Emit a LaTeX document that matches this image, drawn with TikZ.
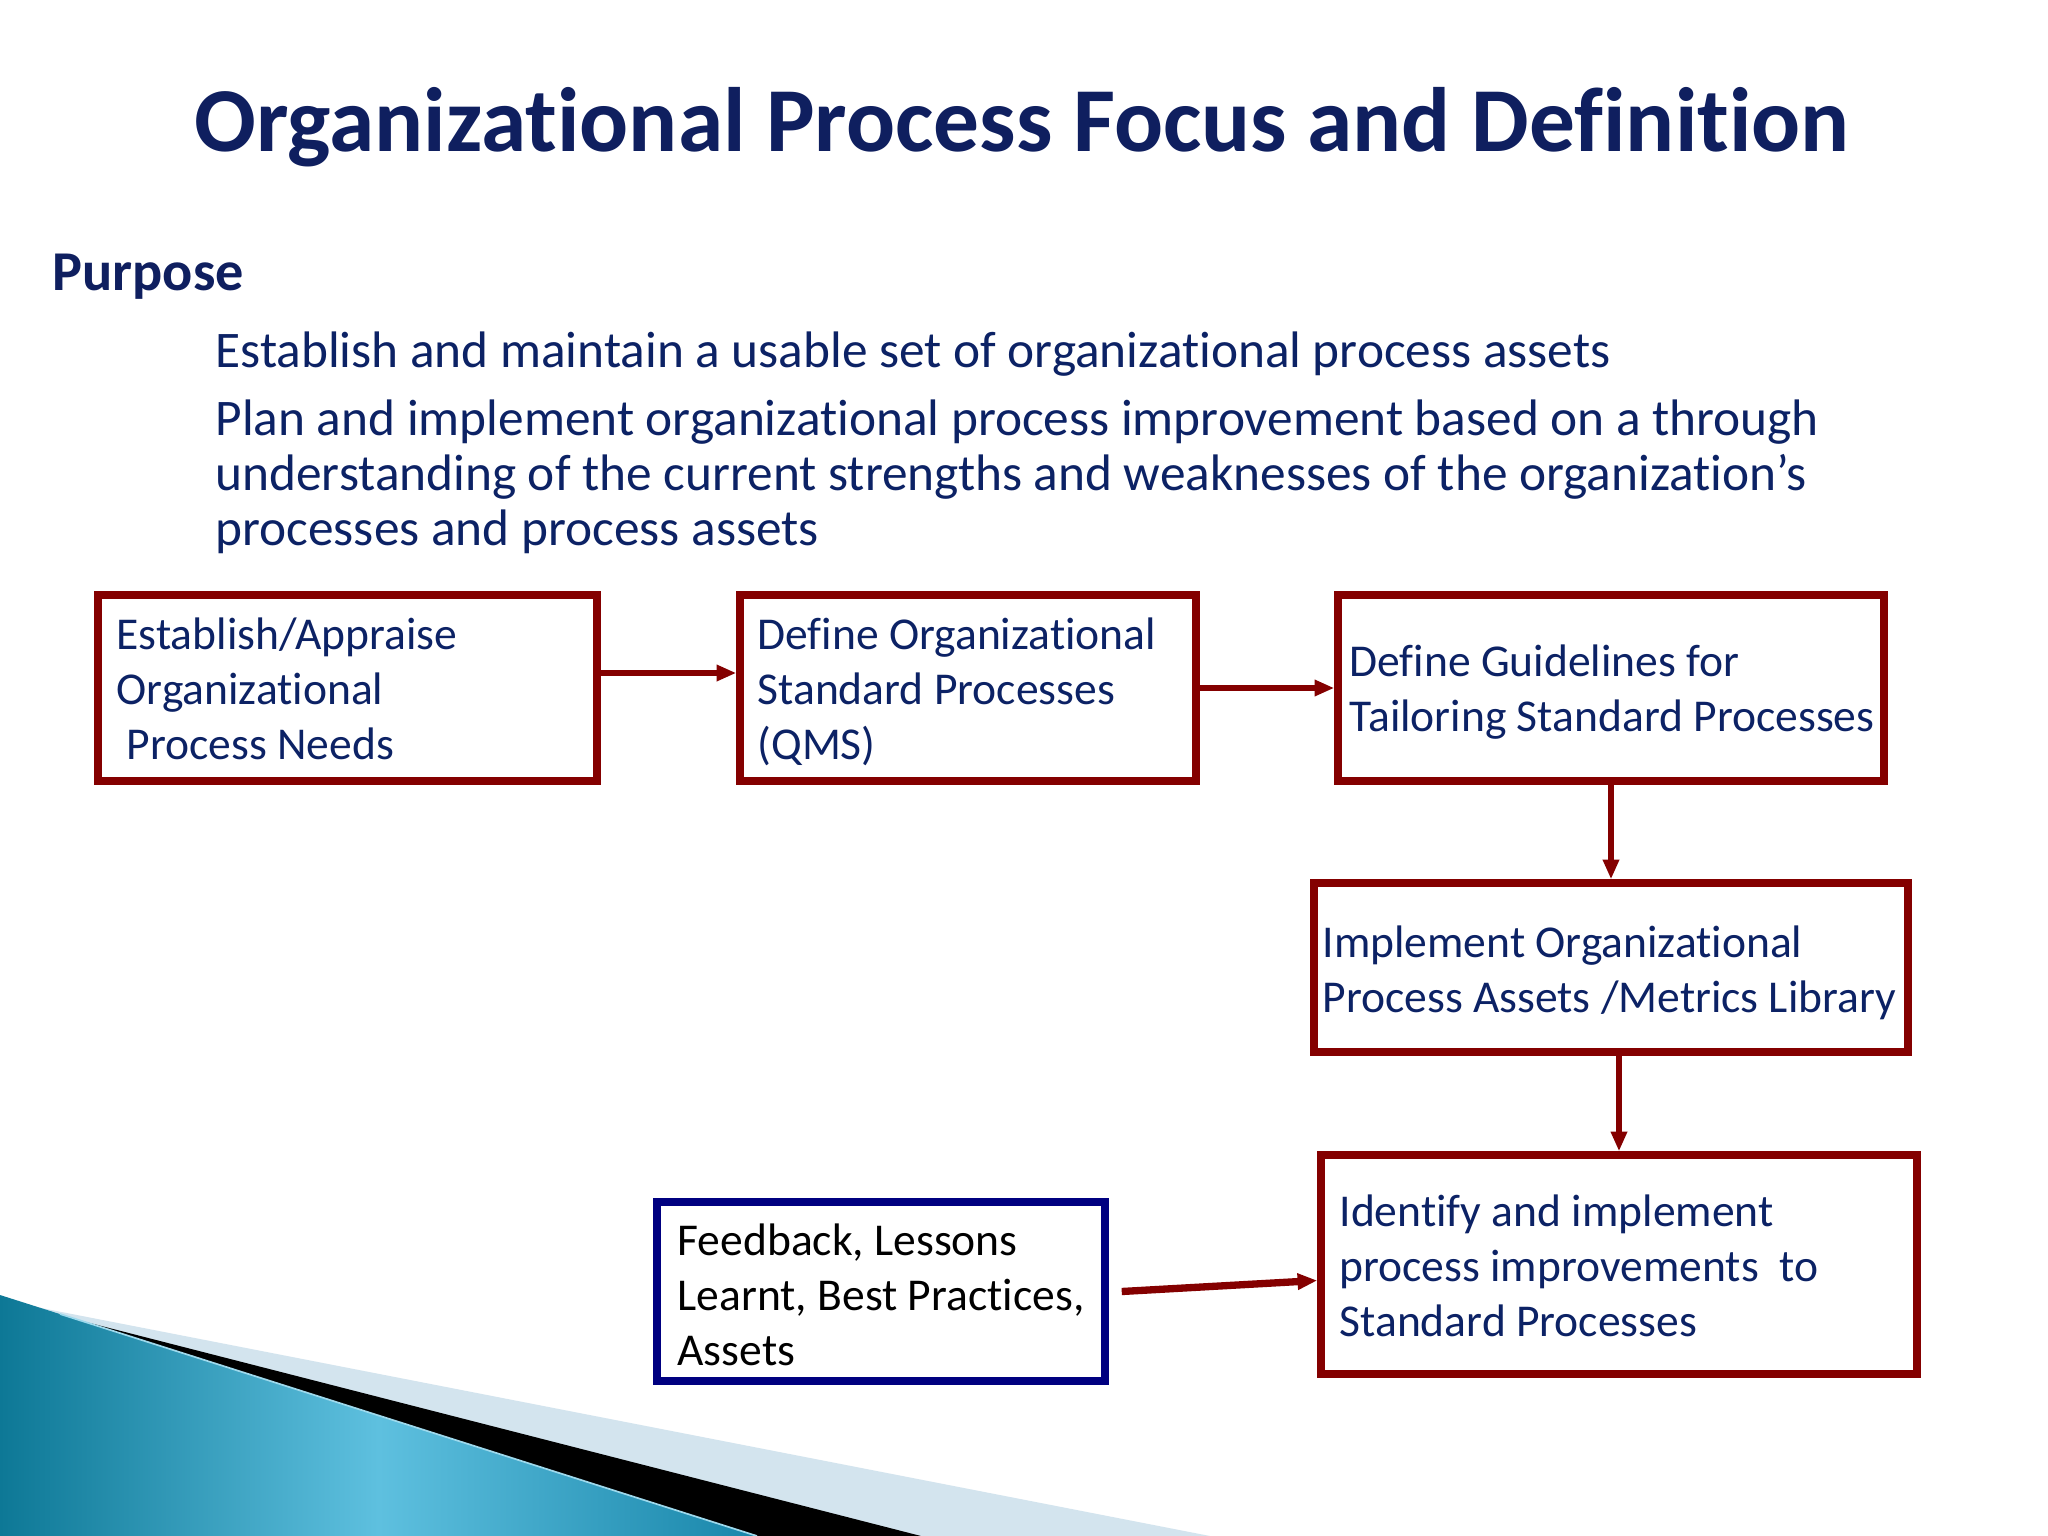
\documentclass[tikz,border=0pt]{standalone}
\usepackage{fontspec}
\setmainfont{Carlito}[Ligatures=NoCommon]
\usetikzlibrary{arrows.meta,calc}
\definecolor{navy}{HTML}{0F1F5F}
\definecolor{txt}{HTML}{0C2265}
\definecolor{brd}{HTML}{840000}
\definecolor{bbrd}{HTML}{000080}
\definecolor{tealA}{HTML}{0D7896}
\definecolor{tealB}{HTML}{5EC0DF}
\definecolor{tealC}{HTML}{1886AA}
\definecolor{band}{HTML}{D3E4EE}
\tikzset{
  box/.style={draw=brd, line width=2.6pt, fill=white, inner sep=0pt},
  bluebox/.style={draw=bbrd, line width=2.6pt, fill=white, inner sep=0pt},
  btext/.style={text=txt, font=\fontsize{16.2}{19.5}\selectfont, align=left, inner sep=0pt, anchor=base west},
  body/.style={text=txt, font=\fontsize{18.25}{19.5}\selectfont, align=left, inner sep=0pt, anchor=base west},
  arr/.style={draw=brd, line width=2.3pt, -{Triangle[length=7pt,width=5.5pt]}},
}
\begin{document}
\begin{tikzpicture}[x=0.0125cm,y=-0.0125cm]
\useasboundingbox (0,0) rectangle (2048,1536);
\fill[white] (0,0) rectangle (2048,1536);
% decoration bottom-left
\fill[band] (0,1300) -- (1210,1536) -- (0,1536) -- cycle;
\fill[black] (0,1300) -- (921,1536) -- (0,1536) -- cycle;
\shade[left color=tealA, right color=tealC, middle color=tealB] (0,1295) -- (757,1536) -- (0,1536) -- cycle;
\draw[color=tealB!60!white, line width=0.6pt] (60,1314) -- (757,1536);
% title and purpose
\node[text=navy, font=\fontsize{32.5}{38}\selectfont\bfseries, anchor=base, inner sep=0pt] (title) at (1022,151) {Organizational Process Focus and Definition};
\node[text=navy, font=\fontsize{20}{24}\selectfont\bfseries, anchor=base west, inner sep=0pt] (purpose) at (52,290) {Purpose};
\node[body] (p1) at (215,367) {Establish and maintain a usable set of organizational process assets};
\node[body] (p2) at (215,435) {Plan and implement organizational process improvement based on a through};
\node[body] (p3) at (215,490) {understanding of the current strengths and weaknesses of the organization’s};
\node[body] (p4) at (215,545) {processes and process assets};
% boxes
\node[box, minimum width=6.2375cm, minimum height=2.325cm] (b1) at (347.5,688) {};
\node[btext] (b1t) at (116,759) {Establish/Appraise\\Organizational\\\ Process Needs};
\node[box, minimum width=5.7cm, minimum height=2.325cm] (b2) at (968,688) {};
\node[btext] (b2t) at (757,759) {Define Organizational\\Standard Processes\\(QMS)};
\node[box, minimum width=6.825cm, minimum height=2.325cm] (b3) at (1611,688) {};
\node[btext] (b3t) at (1349,731) {Define Guidelines for\\Tailoring Standard Processes};
\node[box, minimum width=7.425cm, minimum height=2.1125cm] (b4) at (1611,967.5) {};
\node[btext] (b4t) at (1322,1012) {Implement Organizational\\Process Assets /Metrics Library};
\node[box, minimum width=7.45cm, minimum height=2.7375cm] (b5) at (1619,1264.5) {};
\node[btext] (b5t) at (1339,1336) {Identify and implement\\process improvements\ \ to\\Standard Processes};
\node[bluebox, minimum width=5.6cm, minimum height=2.2375cm] (b6) at (881,1291.5) {};
\node[btext, text=black] (b6t) at (677,1365) {Feedback, Lessons\\Learnt, Best Practices,\\Assets};
% connectors
\draw[arr] ($(b1.east)+(0,-15)$) -- ($(b2.west)+(0,-15)$);
\draw[arr] (b2.east) -- (b3.west);
\draw[arr] (b3.south) -- (b3.south |- b4.north);
\draw[arr] (b4.south -| b5.north) -- (b5.north);
\draw[arr, line width=2.6pt] ($(b6.east)+(13,0)$) -- ($(b5.west)+(0,16)$);
\end{tikzpicture}
\end{document}
